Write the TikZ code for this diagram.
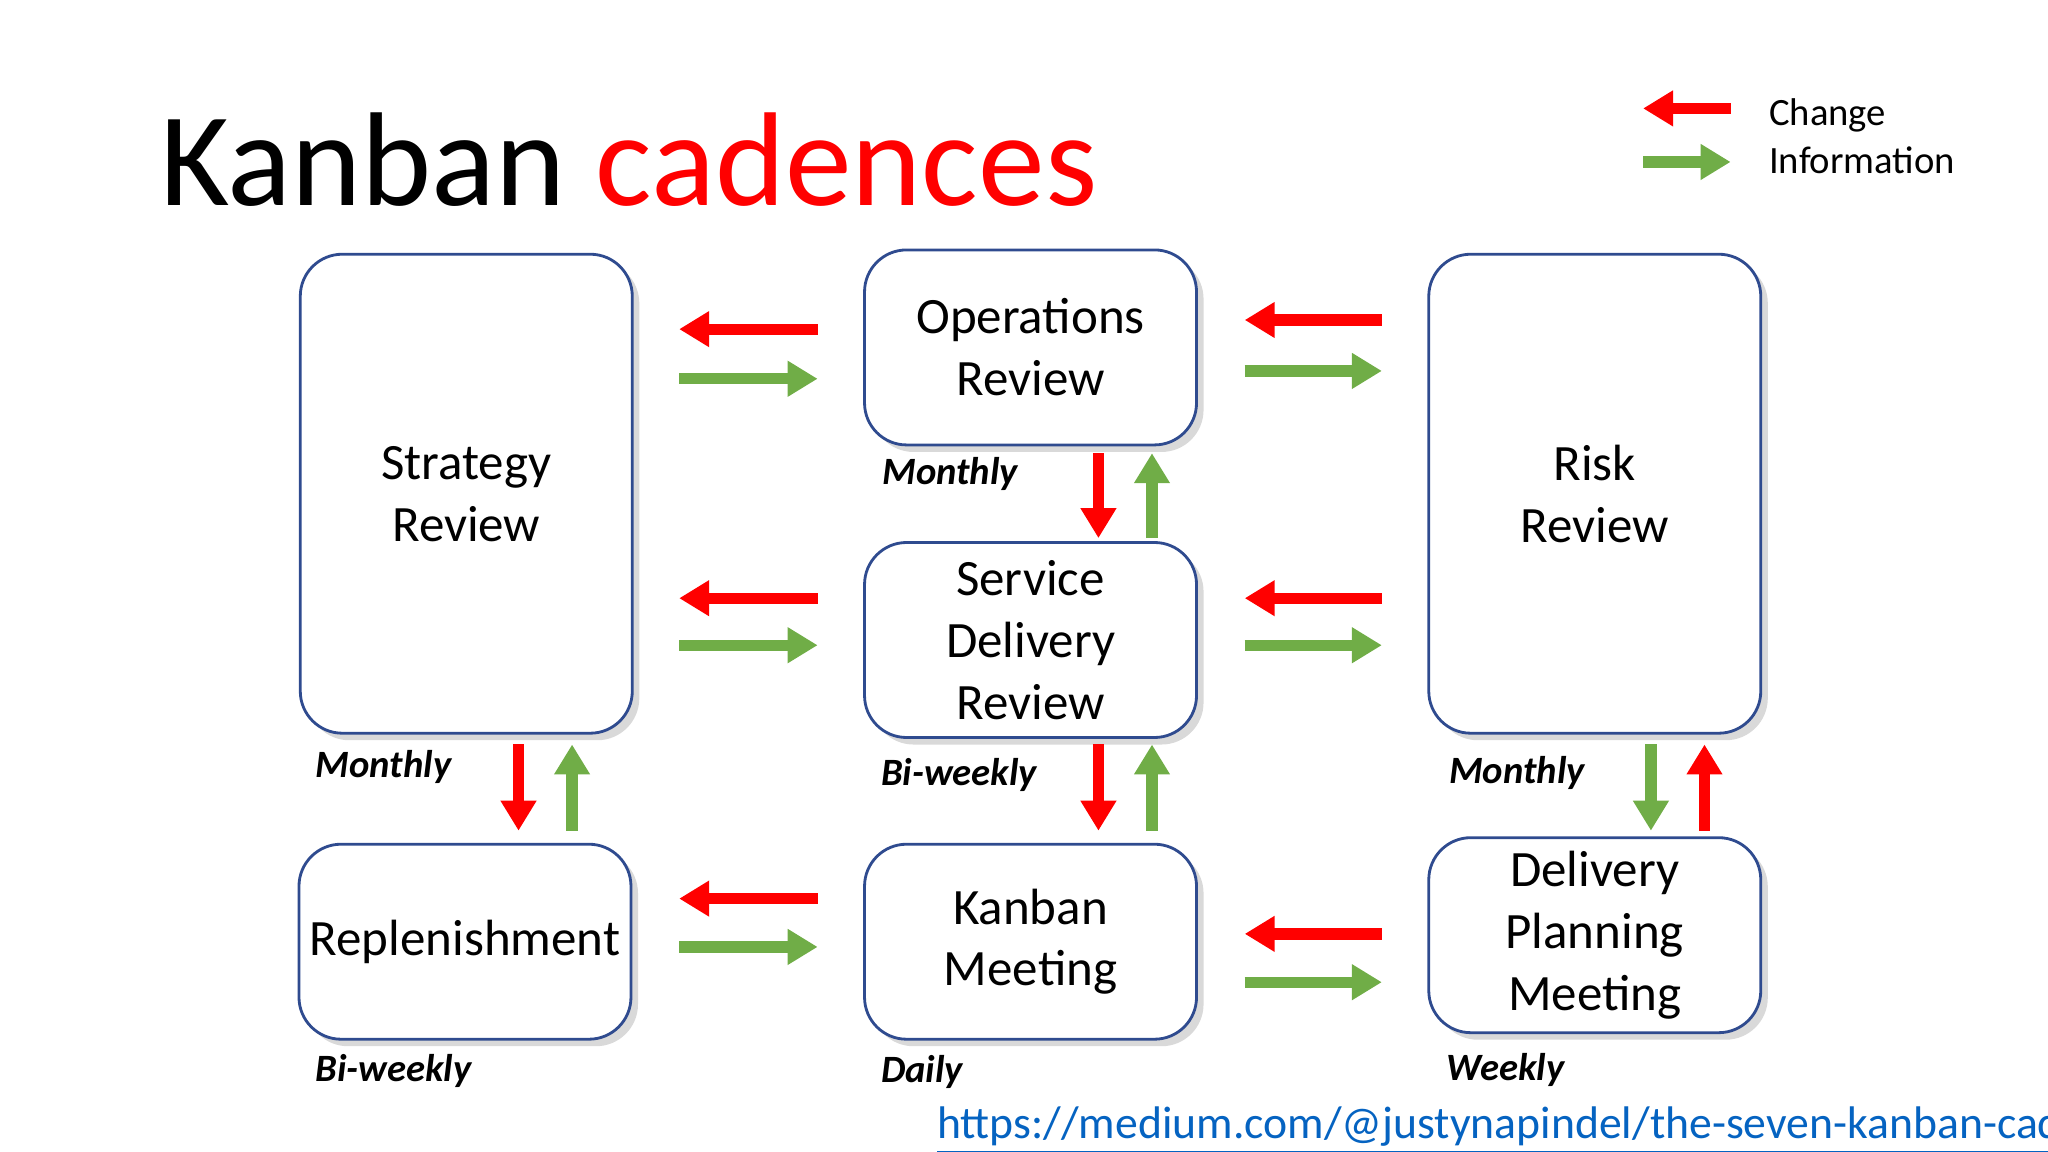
\documentclass[tikz,border=0pt]{standalone}
\usepackage{fontspec}
\setmainfont{Carlito}
\usetikzlibrary{arrows.meta,shadows}
\definecolor{cred}{HTML}{FF0000}
\definecolor{cgreen}{HTML}{70AD47}
\definecolor{cborder}{HTML}{2F4B8F}
\definecolor{clink}{HTML}{0563C1}
\newcommand{\harr}[4]{% y red, y green, x left, x right
  \coordinate (hr1-#1) at (#4,#1); \coordinate (hr2-#1) at (#3,#1);
  \coordinate (hg1-#2) at (#3,#2); \coordinate (hg2-#2) at (#4,#2);
  \draw[red] (hr1-#1) -- (hr2-#1);
  \draw[grn] (hg1-#2) -- (hg2-#2);}
\newcommand{\varr}[4]{% x down, x up, y top, y bottom, colours via style
  \coordinate (va-#1-#3) at (#1,#3); \coordinate (vb-#1-#3) at (#1,#4);
  \coordinate (vc-#2-#3) at (#2,#4); \coordinate (vd-#2-#3) at (#2,#3);}
\begin{document}
\begin{tikzpicture}[x=0.013061cm,y=-0.013061cm,
 box/.style={draw=cborder,line width=0.8pt,rounded corners=0.42cm,fill=white,
   drop shadow={shadow xshift=2pt,shadow yshift=-2pt,opacity=0.3},
   align=center,inner sep=0pt,minimum width=3.32cm,minimum height=1.95cm,
   font=\fontsize{14.5}{17.6}\selectfont},
 tall/.style={minimum height=4.79cm},
 arr/.style={line width=3.2pt,-{Triangle[length=0.3cm,width=0.34cm]}},
 red/.style={arr,draw=cred},
 grn/.style={arr,draw=cgreen},
 lab/.style={anchor=west,inner sep=0pt,font=\fontsize{11}{13}\selectfont\bfseries\itshape}]
\useasboundingbox (0,0) rectangle (1568,882);
% title
\node[anchor=base west,inner sep=0,font=\fontsize{38}{44}\selectfont] (title) at (122,157) {Kanban \textcolor{cred}{cadences}};
% legend
\coordinate (l1a) at (1325,83); \coordinate (l1b) at (1258,83);
\coordinate (l2a) at (1258,124); \coordinate (l2b) at (1325,124);
\draw[red] (l1a) -- (l1b); \draw[grn] (l2a) -- (l2b);
\node[anchor=west,font=\fontsize{11}{13}\selectfont] (lc) at (1345,88) {Change};
\node[anchor=west,font=\fontsize{11}{13}\selectfont] (li) at (1345,123) {Information};
% boxes
\node[box,tall] (str) at (357,378) {Strategy\\Review};
\node[box] (ops) at (789,266) {Operations\\Review};
\node[box] (sdr) at (789,490) {Service\\Delivery\\Review};
\node[box,tall] (risk) at (1221,378) {Risk\\Review};
\node[box] (rep) at (356,721) {Replenishment};
\node[box] (kan) at (789,721) {Kanban\\Meeting};
\node[box] (dpm) at (1221,716) {Delivery\\Planning\\Meeting};
% labels
\node[lab] (m1) at (675,363) {Monthly};
\node[lab] (m2) at (241,587) {Monthly};
\node[lab] (b1) at (674,593) {Bi-weekly};
\node[lab] (m3) at (1109,592) {Monthly};
\node[lab] (b2) at (241,820) {Bi-weekly};
\node[lab] (d1) at (674,821) {Daily};
\node[lab] (w1) at (1107,819) {Weekly};
% horizontal arrows
\harr{252}{290}{520}{626}
\harr{245}{284}{953}{1058}
\harr{458}{494}{520}{626}
\harr{458}{494}{953}{1058}
\harr{688}{725}{520}{626}
\harr{715}{752}{953}{1058}
% vertical arrows
\coordinate (a1) at (841,347); \coordinate (a2) at (841,412);
\coordinate (a3) at (882,412); \coordinate (a4) at (882,347);
\draw[red] (a1) -- (a2); \draw[grn] (a3) -- (a4);
\coordinate (b1a) at (841,570); \coordinate (b2a) at (841,636);
\coordinate (b3a) at (882,636); \coordinate (b4a) at (882,570);
\draw[red] (b1a) -- (b2a); \draw[grn] (b3a) -- (b4a);
\coordinate (c1) at (397,570); \coordinate (c2) at (397,636);
\coordinate (c3) at (438,636); \coordinate (c4) at (438,570);
\draw[red] (c1) -- (c2); \draw[grn] (c3) -- (c4);
\coordinate (e1) at (1264,570); \coordinate (e2) at (1264,636);
\coordinate (e3) at (1305,636); \coordinate (e4) at (1305,570);
\draw[grn] (e1) -- (e2); \draw[red] (e3) -- (e4);
% url
\node[anchor=base west,inner sep=0,text=clink,font=\fontsize{13}{15}\selectfont] (url) at (717,872)
 {\underline{https://medium.com/@justynapindel/the-seven-kanban-cadences-}};
\end{tikzpicture}
\end{document}
